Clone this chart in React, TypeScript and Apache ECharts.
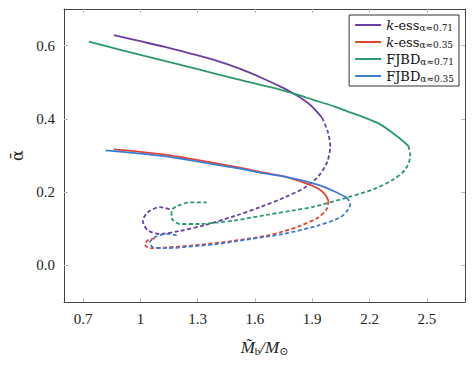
import React, { useEffect, useRef } from 'react';
import * as echarts from 'echarts';

const FONT = "'Liberation Serif', 'DejaVu Serif', serif";
const LFONT = "'DejaVu Serif', serif";

const xTicks = [0.7, 1.0, 1.3, 1.6, 1.9, 2.2, 2.5];
const yTicks = [0.0, 0.2, 0.4, 0.6];

const legendNames = ['k-ess α≈0.71', 'k-ess α≈0.35', 'FJBD α≈0.71', 'FJBD α≈0.35'];
const colors = ['#6b3fa0', '#e8422f', '#2b9a6b', '#3c7bd6'];

// k-essence, alpha ~ 0.71
const kess071Solid = [
  [0.861, 0.629], [1.0, 0.612], [1.123, 0.597], [1.25, 0.580], [1.385, 0.561],
  [1.52, 0.537], [1.648, 0.509], [1.75, 0.484], [1.822, 0.463], [1.89, 0.438],
  [1.952, 0.403],
];
const kess071Dashed = [
  [1.952, 0.403], [1.983, 0.362], [1.994, 0.325], [1.978, 0.282], [1.935, 0.245],
  [1.863, 0.213], [1.757, 0.186], [1.627, 0.159], [1.495, 0.135], [1.338, 0.110],
  [1.207, 0.094], [1.102, 0.086], [1.039, 0.096], [1.013, 0.121], [1.039, 0.145],
  [1.102, 0.159], [1.165, 0.151],
];

// k-essence, alpha ~ 0.35
const kess035Solid = [
  [0.861, 0.317], [1.0, 0.310], [1.123, 0.303], [1.25, 0.292], [1.385, 0.280],
  [1.52, 0.267], [1.648, 0.253], [1.75, 0.243], [1.836, 0.230], [1.924, 0.212],
  [1.967, 0.194], [1.985, 0.176],
];
const kess035Dashed = [
  [1.985, 0.176], [1.976, 0.154], [1.932, 0.131], [1.836, 0.108], [1.75, 0.093],
  [1.662, 0.081], [1.487, 0.067], [1.312, 0.056], [1.137, 0.049], [1.050, 0.047],
  [1.024, 0.056], [1.041, 0.069], [1.076, 0.074],
];

// FJBD, alpha ~ 0.71
const fjbd071Solid = [
  [0.730, 0.611], [0.9, 0.588], [1.1, 0.562], [1.3, 0.536], [1.5, 0.509],
  [1.731, 0.480], [1.822, 0.466], [1.906, 0.452], [2.015, 0.434], [2.081, 0.421],
  [2.17, 0.404], [2.256, 0.385], [2.343, 0.353], [2.404, 0.326],
];
const fjbd071Dashed = [
  [2.404, 0.326], [2.413, 0.298], [2.387, 0.262], [2.326, 0.235], [2.221, 0.208],
  [2.081, 0.185], [1.906, 0.160], [1.80, 0.150], [1.662, 0.138], [1.487, 0.122],
  [1.399, 0.117], [1.312, 0.113], [1.207, 0.113], [1.163, 0.131], [1.163, 0.149],
  [1.198, 0.163], [1.260, 0.172], [1.347, 0.172],
];

// FJBD, alpha ~ 0.35
const fjbd035Solid = [
  [0.817, 0.314], [1.0, 0.305], [1.123, 0.298], [1.25, 0.288], [1.385, 0.276],
  [1.52, 0.264], [1.648, 0.251], [1.75, 0.243], [1.840, 0.233], [1.924, 0.221],
  [2.011, 0.203], [2.081, 0.185],
];
const fjbd035Dashed = [
  [2.081, 0.185], [2.099, 0.167], [2.090, 0.154], [2.046, 0.131], [1.924, 0.108],
  [1.749, 0.086], [1.574, 0.072], [1.399, 0.058], [1.312, 0.054], [1.137, 0.047],
  [1.067, 0.049], [1.050, 0.063], [1.076, 0.077], [1.137, 0.086], [1.198, 0.081],
];

const solids = [kess071Solid, kess035Solid, fjbd071Solid, fjbd035Solid];
const dashes = [kess071Dashed, kess035Dashed, fjbd071Dashed, fjbd035Dashed];

export default function App() {
  const ref = useRef<HTMLDivElement>(null);
  useEffect(() => {
    if (!ref.current) return;
    const chart = echarts.init(ref.current, null, { renderer: 'svg' });
    const series: any[] = [];
    legendNames.forEach((name, i) => {
      series.push({
        name,
        type: 'line',
        data: solids[i],
        showSymbol: false,
        symbol: 'none',
        smooth: 0.3,
        color: colors[i],
        lineStyle: { color: colors[i], width: 1.8 },
        z: 3,
      });
      series.push({
        name: name + ' unstable',
        type: 'line',
        data: dashes[i],
        showSymbol: false,
        symbol: 'none',
        smooth: 0.3,
        color: colors[i],
        lineStyle: { color: colors[i], width: 1.8, type: [4, 2.5] },
        z: 2,
      });
    });

    const frameLine = { show: true, onZero: false, lineStyle: { color: '#444', width: 1 } };
    const tickX = { show: true, inside: true, length: 4, customValues: xTicks, lineStyle: { color: '#bbb' } };
    const tickY = { show: true, inside: true, length: 4, customValues: yTicks, lineStyle: { color: '#bbb' } };

    chart.setOption({
      animation: false,
      grid: { left: 64, right: 9, top: 9, bottom: 64 },
      legend: {
        data: legendNames.map((n, i) => ({ name: n, icon: 'rect', itemStyle: { color: colors[i] } })),
        orient: 'vertical',
        right: 15,
        top: 15,
        itemWidth: 26,
        itemHeight: 2,
        itemGap: 3,
        padding: [3, 5, 3, 6],
        borderColor: '#333',
        borderWidth: 1,
        backgroundColor: '#fff',
        formatter: (name: string) => {
          const [base, sub] = name.split(' ');
          if (base === 'k-ess') return '{i|k}{n|-ess}{s|' + sub + '}';
          return '{n|' + base + '}{s|' + sub + '}';
        },
        textStyle: {
          fontFamily: LFONT,
          fontSize: 13,
          color: '#111',
          rich: {
            i: { fontFamily: LFONT, fontStyle: 'italic', fontSize: 13, color: '#111', lineHeight: 14 },
            n: { fontFamily: LFONT, fontSize: 13, color: '#111', lineHeight: 14 },
            s: { fontFamily: LFONT, fontSize: 9, color: '#111', lineHeight: 14, padding: [5, 0, 0, 0] },
          },
        },
      },
      xAxis: [
        {
          type: 'value', min: 0.6, max: 2.7, position: 'bottom',
          axisLine: frameLine, axisTick: tickX, splitLine: { show: false },
          axisLabel: { customValues: xTicks, fontFamily: FONT, fontSize: 15, color: '#222', margin: 9 },
          name: '{i|M\u0303}{s|b}{i|/M}{s|\u2299}',
          nameLocation: 'middle',
          nameGap: 36,
          nameTextStyle: {
            rich: {
              i: { fontFamily: FONT, fontStyle: 'italic', fontSize: 17, color: '#222' },
              s: { fontFamily: FONT, fontSize: 11, color: '#222', padding: [7, 0, 0, 0] },
            },
          },
        },
        {
          type: 'value', min: 0.6, max: 2.7, position: 'top',
          axisLine: frameLine, axisTick: tickX, splitLine: { show: false },
          axisLabel: { show: false },
        },
      ],
      yAxis: [
        {
          type: 'value', min: -0.1, max: 0.7, position: 'left',
          axisLine: frameLine, axisTick: tickY, splitLine: { show: false },
          axisLabel: {
            customValues: yTicks, fontFamily: FONT, fontSize: 15, color: '#222', margin: 9,
            formatter: (v: number) => v.toFixed(1),
          },
          name: '\u1FB1',
          nameLocation: 'middle',
          nameRotate: 90,
          nameGap: 38,
          nameTextStyle: { fontFamily: "'DejaVu Serif', serif", fontSize: 16, color: '#222' },
        },
        {
          type: 'value', min: -0.1, max: 0.7, position: 'right',
          axisLine: frameLine, axisTick: tickY, splitLine: { show: false },
          axisLabel: { show: false },
        },
      ],
      series,
    });
    return () => chart.dispose();
  }, []);
  return <div ref={ref} style={{ width: 474, height: 366, position: 'absolute', left: 0, top: 0 }} />;
}
